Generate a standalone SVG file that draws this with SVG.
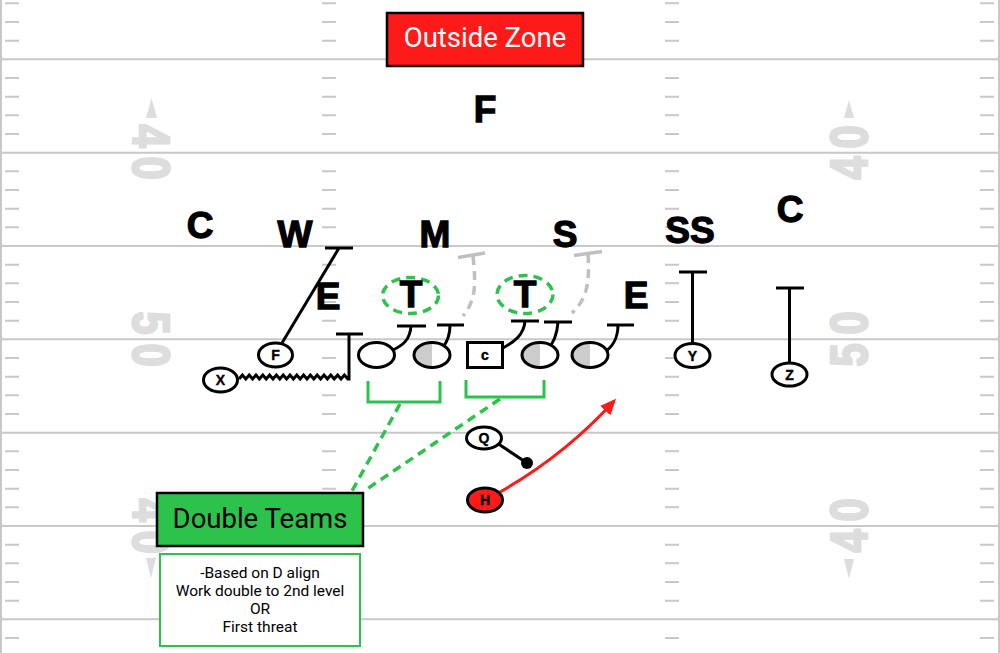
<svg xmlns="http://www.w3.org/2000/svg" width="1000" height="653" viewBox="0 0 1000 653">
<defs>
<style>
.fl{stroke:#c8c8c8;stroke-width:2;fill:none}
.num{font-family:"Liberation Sans",Arial,sans-serif;font-weight:bold;font-size:52px;fill:#dddddd;stroke:#dddddd;stroke-width:2.5;stroke-linejoin:round;text-anchor:middle}
.tri{fill:#dddddd}
.def{font-family:"Liberation Sans",Arial,sans-serif;font-weight:bold;font-size:37px;fill:#000;stroke:#000;stroke-width:1.3;text-anchor:middle}
.pl{fill:#fff;stroke:#000;stroke-width:3}
.ol{fill:none;stroke:#000;stroke-width:3}
.half{fill:#cccccc}
.pt{font-family:"Liberation Sans",Arial,sans-serif;font-weight:bold;font-size:14px;fill:#000;stroke:#000;stroke-width:0.4;text-anchor:middle}
.blk{fill:none;stroke:#000;stroke-width:3}
.grn{fill:none;stroke:#2dc24b;stroke-width:3}
.gdash{fill:none;stroke:#2dc24b;stroke-width:3.5;stroke-dasharray:9 6}
.gray{fill:none;stroke:#c0c0c0;stroke-width:3.5;stroke-dasharray:9 6}
.grays{fill:none;stroke:#c0c0c0;stroke-width:3.5}
.red{fill:none;stroke:#ff1a1a;stroke-width:3}
.lbl{font-family:Roboto,"Noto Sans",sans-serif;text-anchor:middle}
</style>
<path id="ticks" d="M0 3.3h14M0 22h14M0 40.7h14M0 78h14M0 96.7h14M0 115.3h14M0 134h14M0 171.3h14M0 190h14M0 208.7h14M0 227.3h14M0 264.7h14M0 283.3h14M0 302h14M0 320.7h14M0 358h14M0 376.7h14M0 395.3h14M0 414h14M0 451.3h14M0 470h14M0 488.7h14M0 507.3h14M0 544.7h14M0 563.3h14M0 582h14M0 600.7h14M0 638h14"/>
<marker id="arr" markerUnits="userSpaceOnUse" markerWidth="16" markerHeight="14" refX="13" refY="7" orient="auto">
<path d="M0,0 L16,7 L0,14 Z" fill="#ff1a1a"/>
</marker>
</defs>
<rect width="1000" height="653" fill="#ffffff"/>
<g id="field" class="fl">
<path d="M0 59.3H1000M0 152.7H1000M0 246H1000M0 339.3H1000M0 432.7H1000M0 526H1000M0 619.3H1000M1 0V653M999 0V653"/>
<use href="#ticks" x="5"/>
<use href="#ticks" x="322"/>
<use href="#ticks" x="665"/>
<use href="#ticks" x="980"/>
</g>
<g id="yard-numbers">
<polygon class="tri" points="151.5,98 157,118 146,118"/>
<text class="num" transform="translate(152,136) rotate(90) scale(0.8,1)" y="18.6">4</text>
<text class="num" transform="translate(152,168) rotate(90) scale(0.8,1)" y="18.6">0</text>
<text class="num" transform="translate(152,323) rotate(90) scale(0.8,1)" y="18.6">5</text>
<text class="num" transform="translate(152,355) rotate(90) scale(0.8,1)" y="18.6">0</text>
<text class="num" transform="translate(152,510) rotate(90) scale(0.8,1)" y="18.6">4</text>
<text class="num" transform="translate(152,542) rotate(90) scale(0.8,1)" y="18.6">0</text>
<polygon class="tri" points="146,558 156,558 151,578"/>
<polygon class="tri" points="849,100 854,118 844,118"/>
<text class="num" transform="translate(848,137) rotate(-90) scale(0.8,1)" y="18.6">0</text>
<text class="num" transform="translate(848,168) rotate(-90) scale(0.8,1)" y="18.6">4</text>
<text class="num" transform="translate(848,323) rotate(-90) scale(0.8,1)" y="18.6">0</text>
<text class="num" transform="translate(848,355) rotate(-90) scale(0.8,1)" y="18.6">5</text>
<text class="num" transform="translate(848,510) rotate(-90) scale(0.8,1)" y="18.6">0</text>
<text class="num" transform="translate(848,541) rotate(-90) scale(0.8,1)" y="18.6">4</text>
<polygon class="tri" points="844,559 854,559 849,579"/>
</g>
<g id="connectors">
<path class="blk" d="M282,343 L339,248 M325,248 H353"/>
<path class="blk" d="M239,379 l3.4-4 3.4 4 3.4-4 3.4 4 3.4-4 3.4 4 3.4-4 3.4 4 3.4-4 3.4 4 3.4-4 3.4 4 3.4-4 3.4 4 3.4-4 3.4 4 3.4-4 3.4 4 3.4-4 3.4 4 3.4-4 3.4 4 3.4-4 3.4 4 3.4-4 3.4 4 3.4-4 3.4 4 3.4-4 3.4 4 3.4-4 3.4 4 L349,379 V334 M336,334 H363"/>
<path class="blk" d="M393,350 C403,345 410,340 411,326 M397,326 H426"/>
<path class="blk" d="M443,347 C447,342 450,336 450,325 M437,325 H464"/>
<path class="blk" d="M503,348 C514,342 524,335 525,321 M511,321 H539"/>
<path class="blk" d="M547,350 C552,345 557,337 558,322 M544,322 H572"/>
<path class="blk" d="M603,353 C612,348 618,338 618,325 M607,325 H634"/>
<path class="blk" d="M692.5,343 V272 M679,272 H707"/>
<path class="blk" d="M789.5,362 V288 M776,288 H804"/>
<path class="gray" d="M473,256 C476,285 476,300 463,316"/>
<path class="grays" d="M458,257.5 L485,253"/>
<path class="gray" d="M588,254 C590,285 586,300 572,313"/>
<path class="grays" d="M574,255.5 L602,251.5"/>
<path class="grn" d="M368,381 V402 H440 V381"/>
<path class="grn" d="M466,380 V397 H544 V380"/>
<path class="gdash" d="M400,404 L352,491"/>
<path class="gdash" d="M500,399 L364,491"/>
<path class="blk" d="M497,443 L527,463"/>
<circle cx="527" cy="463" r="6" fill="#000"/>
<path class="red" d="M500,492 Q565,455 614,401" marker-end="url(#arr)"/>
</g>
<g id="title">
<rect x="387" y="13" width="196" height="53" fill="#ff1a1a" stroke="#000" stroke-width="2.5"/>
<text class="lbl" x="485" y="47" font-size="27.5" fill="#ffffff">Outside Zone</text>
</g>
<g id="def-F"><text class="def" x="485" y="122">F</text></g>
<g id="def-C-left"><text class="def" x="200" y="238">C</text></g>
<g id="def-W"><text class="def" x="295" y="247">W</text></g>
<g id="def-M"><text class="def" x="435" y="247">M</text></g>
<g id="def-S"><text class="def" x="565" y="247">S</text></g>
<g id="def-SS"><text class="def" x="690" y="243">SS</text></g>
<g id="def-C-right"><text class="def" x="790" y="222">C</text></g>
<g id="def-E-left"><text class="def" x="328" y="309">E</text></g>
<g id="def-T-left"><ellipse cx="410.5" cy="295.5" rx="28" ry="18" class="gdash"/><text class="def" x="411" y="307">T</text></g>
<g id="def-T-right"><ellipse cx="525" cy="294.5" rx="28" ry="19" class="gdash"/><text class="def" x="525" y="307">T</text></g>
<g id="def-E-right"><text class="def" x="636" y="308">E</text></g>
<g id="off-LT"><ellipse class="pl" cx="376.5" cy="355" rx="18" ry="12.5"/></g>
<g id="off-LG"><ellipse cx="432" cy="355" rx="18" ry="12.5" fill="#fff"/><path class="half" d="M432,342.5 A18,12.5 0 0 0 432,367.5 Z"/><ellipse class="ol" cx="432" cy="355" rx="18" ry="12.5"/></g>
<g id="off-C"><rect class="pl" x="467.5" y="342.5" width="35" height="25"/><text class="pt" x="485" y="360">c</text></g>
<g id="off-RG"><ellipse cx="540" cy="355" rx="18" ry="12.5" fill="#fff"/><path class="half" d="M540,342.5 A18,12.5 0 0 0 540,367.5 Z"/><ellipse class="ol" cx="540" cy="355" rx="18" ry="12.5"/></g>
<g id="off-RT"><ellipse cx="590" cy="355" rx="18" ry="12.5" fill="#fff"/><path class="half" d="M590,342.5 A18,12.5 0 0 0 590,367.5 Z"/><ellipse class="ol" cx="590" cy="355" rx="18" ry="12.5"/></g>
<g id="off-X"><ellipse class="pl" cx="220.5" cy="380" rx="17" ry="12"/><text class="pt" x="220.5" y="385">X</text></g>
<g id="off-F"><ellipse class="pl" cx="275.5" cy="355" rx="17" ry="12"/><text class="pt" x="275.5" y="360">F</text></g>
<g id="off-Y"><ellipse class="pl" cx="692.5" cy="355.5" rx="17.5" ry="12"/><text class="pt" x="692.5" y="360.5">Y</text></g>
<g id="off-Z"><ellipse class="pl" cx="789.5" cy="374.5" rx="17.5" ry="11.5"/><text class="pt" x="789.5" y="379.5">Z</text></g>
<g id="off-Q"><ellipse class="pl" cx="484" cy="438" rx="17.5" ry="11"/><text class="pt" x="484" y="443">Q</text></g>
<g id="off-H"><ellipse cx="485" cy="500" rx="17.5" ry="12" fill="#ff1a1a" stroke="#000" stroke-width="3"/><text class="pt" x="485" y="505">H</text></g>
<g id="double-teams">
<rect x="157" y="493" width="206" height="53" fill="#2dc24b" stroke="#000" stroke-width="2.5"/>
<text class="lbl" x="260" y="528" font-size="27.5" fill="#000">Double Teams</text>
</g>
<g id="note">
<rect x="160" y="554" width="200" height="92" fill="#fff" stroke="#2dc24b" stroke-width="2"/>
<text class="lbl" font-size="15.5" fill="#000"><tspan x="260" y="578">-Based on D align</tspan><tspan x="260" y="596">Work double to 2nd level</tspan><tspan x="260" y="614">OR</tspan><tspan x="260" y="632">First threat</tspan></text>
</g>
</svg>
